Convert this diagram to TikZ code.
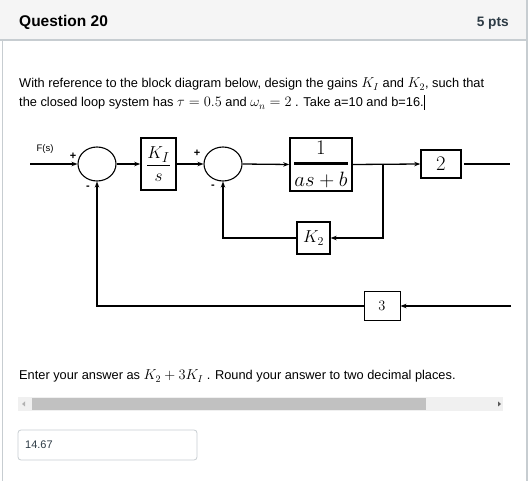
\documentclass[tikz,border=0pt]{standalone}
\usepackage{amsmath}
\usepackage{fontspec}
\setmainfont{Liberation Sans}
\usetikzlibrary{
    arrows.meta,
    positioning,
    shapes.geometric
}
\definecolor{HeadGray}{RGB}{245,245,245}
\definecolor{LineGray}{RGB}{199,205,209}
\definecolor{TrackGray}{RGB}{240,240,240}
\definecolor{ThumbGray}{RGB}{193,193,193}
\definecolor{TextDark}{RGB}{45,59,69}
\newcommand{\qm}[1]{{\fontsize{14.5}{15}\selectfont$#1$}}
\tikzset{
  sumnode/.style = {draw, ellipse, line width=1.1pt, minimum width=38pt,
                    minimum height=34pt, inner sep=0pt},
  gainbox/.style = {draw, line width=1.6pt, inner sep=0pt, font=\fontsize{19}{21}\selectfont},
  thinbox/.style = {draw, line width=0.9pt, inner sep=0pt, font=\fontsize{15}{17}\selectfont},
  arr/.style     = {-{Stealth[length=6pt,width=4.5pt]}, line width=1.3pt},
  sig/.style     = {line width=1.3pt},
  body/.style    = {anchor=base west, inner sep=0pt, font=\fontsize{12.8}{15}\selectfont},
  sign/.style    = {inner sep=0pt, font=\fontsize{11}{12}\selectfont\bfseries}
}

\begin{document}
\begin{tikzpicture}[x=1pt, y=-1pt]
\useasboundingbox (0,0) rectangle (531,481);
% card frame and header
\fill[HeadGray] (0,0) rectangle (527,40);
\draw[LineGray, line width=1.5pt] (0,40) -- (527,40);
\draw[LineGray, line width=1.2pt] (2.5,40) -- (2.5,481);
\draw[LineGray, line width=1.2pt] (527,0) -- (527,481);
\node[anchor=base west, inner sep=0pt, font=\fontsize{15.5}{18}\selectfont\bfseries]
    (qtitle) at (19,27) {Question 20};
\node[anchor=base east, inner sep=0pt, font=\fontsize{13.7}{16}\selectfont\bfseries, text=TextDark]
    (qpts) at (509,27) {5 pts};
% question text
\node[body] (lineone) at (19,88)
    {With reference to the block diagram below, design the gains \qm{K_I} and \qm{K_2}, such that};
\node[body] (linetwo) at (19,107)
    {the closed loop system has \qm{\tau = 0.5} and \qm{\omega_n = 2}\ . Take a=10 and b=16.\rule[-3pt]{0.7pt}{15pt}};

% block diagram
\node[sumnode] (sum1) at (97,164) {};
\node[gainbox, minimum width=35pt, minimum height=52pt] (kint) at (158.5,164)
    {$\displaystyle\frac{K_I}{s}$};
\node[sumnode] (sum2) at (223,164) {};
\node[gainbox, minimum width=62pt, minimum height=53pt, font=\fontsize{20}{22}\selectfont]
    (plant) at (321,164.5) {$\genfrac{}{}{2.5pt}{0}{1}{as+b}$};
\node[gainbox, minimum width=40pt, minimum height=28pt, font=\fontsize{20}{22}\selectfont]
    (two) at (441,164) {$2$};
\node[gainbox, line width=1.3pt, minimum width=33pt, minimum height=32pt, font=\fontsize{18}{20}\selectfont]
    (ktwo) at (313.5,238) {$K_2$};
\node[thinbox, minimum width=36pt, minimum height=29pt] (kthree) at (382,306) {$3$};
\coordinate (in)   at (30,164);
\coordinate (out)  at (510,164);
\coordinate (br)   at (383,164);
\coordinate (fbin) at (511,306);

\node[inner sep=0pt, font=\fontsize{9.5}{10}\selectfont] (fs) at (45,149) {F(s)};
\node[sign] (p1) at (73,156) {+};
\node[sign] (m1) at (88,188) {-};
\node[sign] (p2) at (197,153) {+};
\node[sign] (m2) at (213,187) {-};

\draw[arr] (in) -- (sum1.west);
\draw[arr] (sum1.east) -- (kint.west);
\draw[arr] (kint.east) -- (sum2.west);
\draw[arr] (sum2.east) -- (plant.west);
\draw[arr] (plant.east) -- (two.west);
\draw[sig] ([xshift=2pt]two.east) -- (out);
\draw[arr] (br) |- (ktwo.east);
\draw[arr] (ktwo.west) -| (sum2.south);
\draw[arr] (fbin) -- (kthree.east);
\draw[arr] (kthree.west) -| (sum1.south);

% answer part
\node[body] (ask) at (19,380)
    {Enter your answer as \qm{K_2 + 3K_I}\ . Round your answer to two decimal places.};
\fill[TrackGray] (18,397) rectangle (503,411);
\fill[ThumbGray] (32,398) rectangle (426,410);
\fill[gray!60] (22,404) -- (25,401.5) -- (25,406.5) -- cycle;
\fill[black!65] (501,404) -- (498,401.5) -- (498,406.5) -- cycle;
\draw[LineGray, line width=0.8pt, rounded corners=3pt] (18,430) rectangle (197,460);
\node[anchor=base west, inner sep=0pt, font=\fontsize{11}{13}\selectfont, text=TextDark]
    (answer) at (25,449) {14.67};
\end{tikzpicture}
\end{document}
